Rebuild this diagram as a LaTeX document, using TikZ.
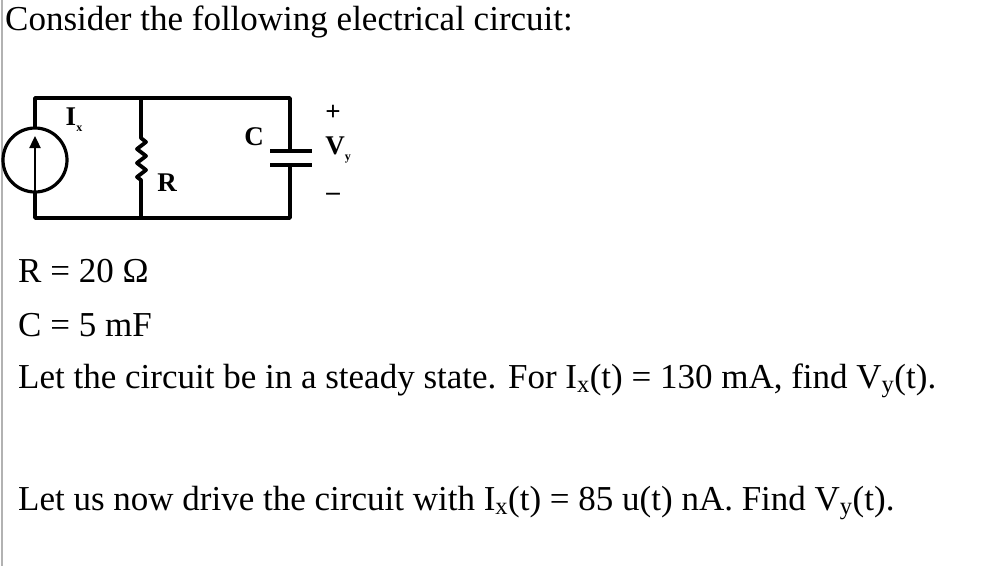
\documentclass[tikz,border=0pt]{standalone}
\usepackage{fontspec}
\setmainfont{Liberation Serif}
\usetikzlibrary{arrows.meta}
\begin{document}
\begin{tikzpicture}[x=1pt,y=-1pt,
  wire/.style={line width=3.8pt,line cap=round,line join=round},
  txt/.style={anchor=west,inner sep=0pt,font=\fontsize{35}{40}\selectfont},
  lbl/.style={inner sep=0pt,font=\bfseries\fontsize{27}{30}\selectfont}]
\useasboundingbox (0,0) rectangle (993,566);
\fill[white] (0,0) rectangle (993,566);
\draw[gray!60,line width=2pt] (2,0) -- (2,566);
\node[txt] (t1) at (5,22) {Consider the following electrical circuit:};
% circuit
\coordinate (tl) at (35,98); \coordinate (bl) at (35,218);
\coordinate (tm) at (141,98); \coordinate (bm) at (141,218);
\coordinate (tr) at (290,98); \coordinate (br) at (290,218);
\coordinate (atip) at (35,136);
\node[circle,draw,line width=3.2pt,minimum size=64pt,inner sep=0pt] (src) at (35,160) {};
\draw[wire] (src.north) -- (tl) -- (tr) -- (290,151);
\draw[wire] (src.south) -- (bl) -- (br) -- (290,165);
\draw[wire] (tm) -- (141,138) -- (146,142) -- (137,149) -- (146,156) -- (137,163) -- (146,170) -- (137,177) -- (141,180) -- (bm);
\draw[wire,line cap=butt] (270,151) -- (312,151);
\draw[wire,line cap=butt] (270,165) -- (312,165);
\draw[line width=2.4pt,-{Triangle[length=12pt,width=11pt]}] (src.south) -- (atip);
\node[lbl] (ix) at (74,120) {I\raisebox{-6pt}{\fontsize{12}{12}\selectfont x}};
\node[lbl] (r) at (167,183) {R};
\node[lbl] (c) at (254,137) {C};
\node[lbl] (p) at (333,113) {+};
\node[lbl] (vy) at (338,150) {V\raisebox{-6pt}{\fontsize{12}{12}\selectfont y}};
\node[lbl] (m) at (333,197) {\textendash};
% text
\node[txt] (t2) at (18,271) {R = 20 Ω};
\node[txt] (t3) at (18,325) {C = 5 mF};
\node[txt] (t4) at (18,381) {Let the circuit be in a steady state. For I\textsubscript{x}(t) = 130 mA, find V\textsubscript{y}(t).};
\node[txt] (t5) at (18,503) {Let us now drive the circuit with I\textsubscript{x}(t) = 85 u(t) nA. Find V\textsubscript{y}(t).};
\end{tikzpicture}
\end{document}
